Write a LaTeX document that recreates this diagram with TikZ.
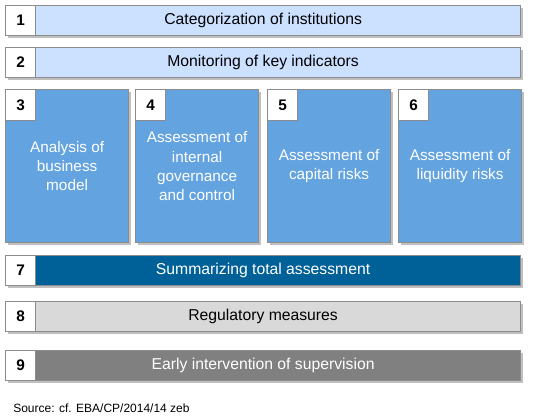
\documentclass[tikz,border=0pt]{standalone}
\usepackage{fontspec}
\setmainfont{Liberation Sans}
\usetikzlibrary{shadows}
\definecolor{rowlight}{RGB}{204,224,255}
\definecolor{colblue}{RGB}{99,163,224}
\definecolor{rowdark}{RGB}{0,96,152}
\definecolor{rowgray}{RGB}{217,217,217}
\definecolor{rowslate}{RGB}{128,128,128}
\definecolor{edgegray}{RGB}{140,140,140}
\tikzset{
	box/.style={draw=edgegray, line width=0.9pt, inner sep=0pt, anchor=north west},
	shadowed/.style={drop shadow={shadow xshift=2pt, shadow yshift=-2pt, fill=black!55, opacity=0.45}},
	bar/.style={box, shadowed, minimum width=515*0.75pt, minimum height=30*0.75pt, font=\fontsize{11.8}{13}\selectfont},
	column/.style={box, shadowed, fill=colblue, text=white, align=center, minimum width=123*0.75pt, minimum height=153*0.75pt, font=\fontsize{11.5}{14.3}\selectfont},
	numbox/.style={box, fill=white, minimum width=30*0.75pt, minimum height=30*0.75pt, font=\bfseries\fontsize{11.5}{13}\selectfont}
}

\begin{document}
\begin{tikzpicture}[x=0.75pt, y=-0.75pt]
	%%%%% START %%%%%
	\useasboundingbox[fill=white] (0,0) rectangle (533,416);
	
	\node[bar, fill=rowlight] (cat) at (5,5) {Categorization of institutions};
	\node[numbox] (n1) at (5,5) {1};
	
	\node[bar, fill=rowlight] (mon) at (5,47) {Monitoring of key indicators};
	\node[numbox] (n2) at (5,47) {2};
	
	\node[column] (bus) at (5,89) {Analysis of\\business\\model};
	\node[numbox, minimum height=31*0.75pt] (n3) at (5,89) {3};
	\node[column] (gov) at (135,89) {Assessment of\\internal\\governance\\and control};
	\node[numbox, minimum height=31*0.75pt] (n4) at (135,89) {4};
	\node[column] (cap) at (267,89) {Assessment of\\capital risks};
	\node[numbox, minimum height=31*0.75pt] (n5) at (267,89) {5};
	\node[column] (liq) at (398,89) {Assessment of\\liquidity risks};
	\node[numbox, minimum height=31*0.75pt] (n6) at (398,89) {6};
	
	\node[bar, fill=rowdark, text=white] (sum) at (5,255) {Summarizing total assessment};
	\node[numbox] (n7) at (5,255) {7};
	
	\node[bar, fill=rowgray] (reg) at (5,301) {Regulatory measures};
	\node[numbox] (n8) at (5,301) {8};
	
	\node[bar, fill=rowslate, text=white] (early) at (5,350) {Early intervention of supervision};
	\node[numbox] (n9) at (5,350) {9};
	
	\node[anchor=west, inner sep=0pt, font=\fontsize{9}{10}\selectfont] (src) at (13,408) {Source: cf. EBA/CP/2014/14 zeb};
	%%%%% END %%%%%
\end{tikzpicture}
\end{document}
